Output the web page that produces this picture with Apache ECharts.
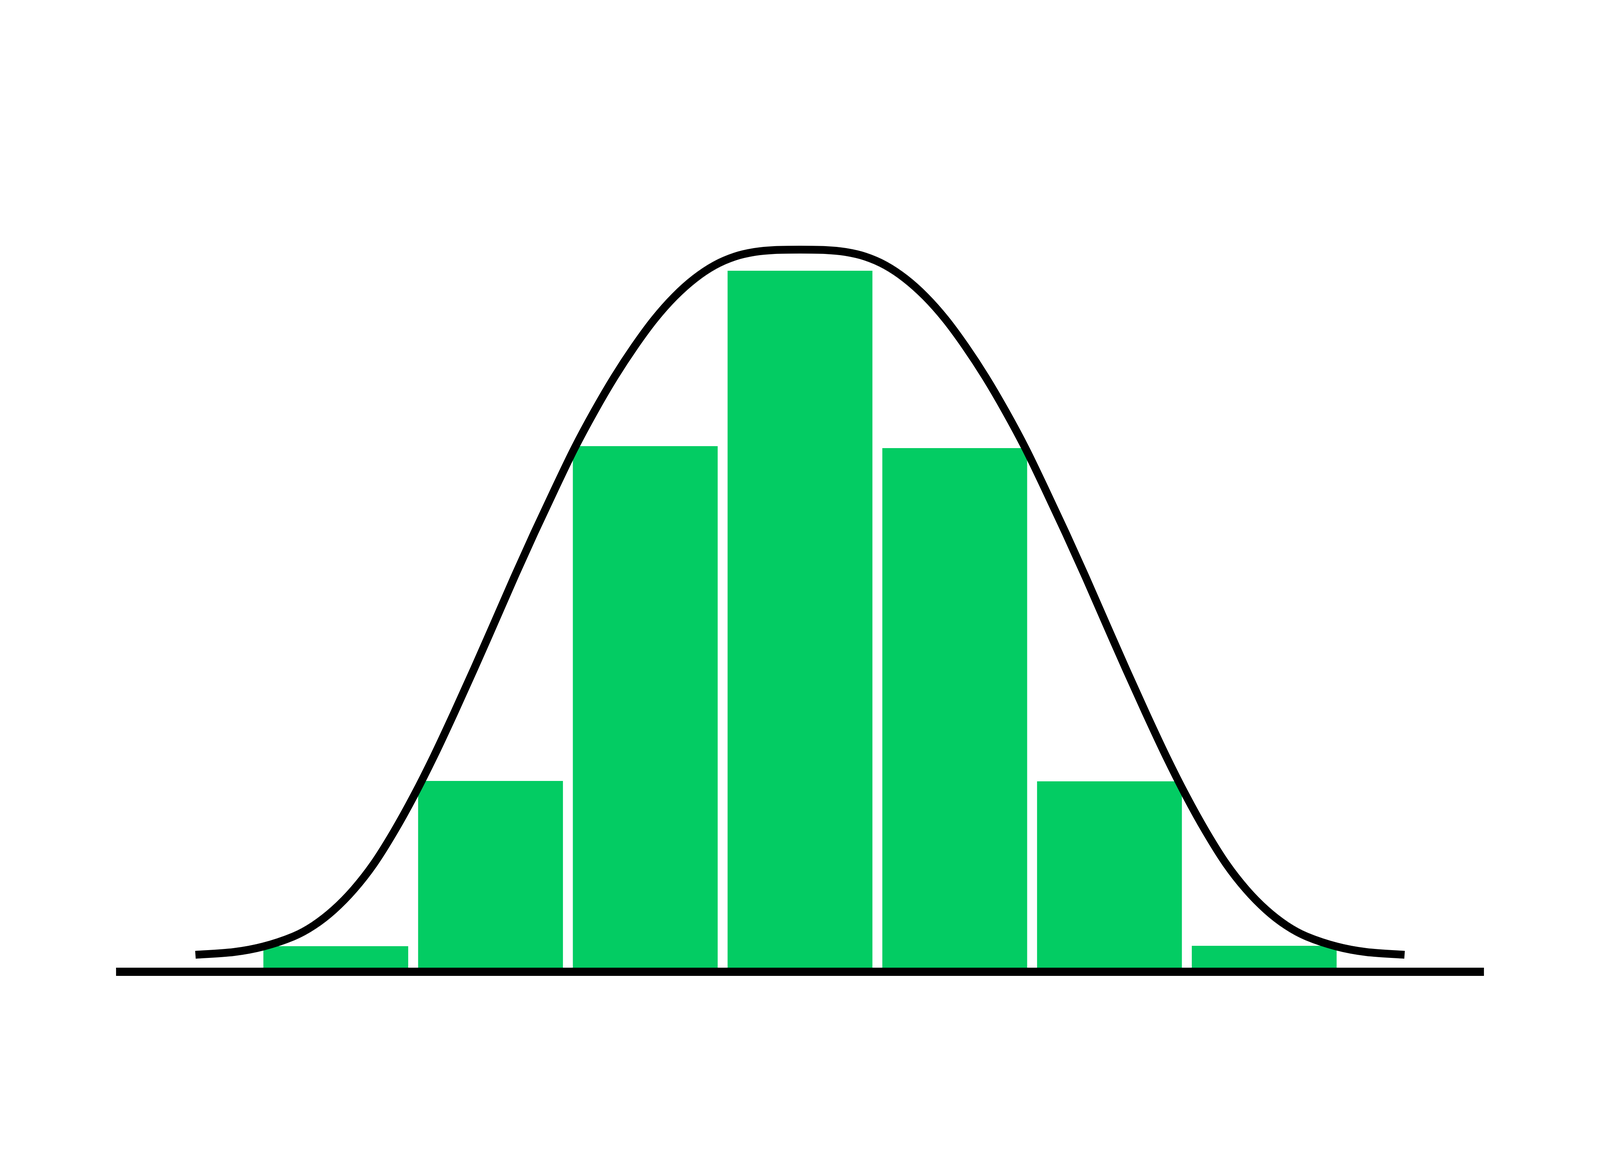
<!DOCTYPE html>
<html>
<head>
<meta charset="utf-8">
<style>
  html, body { margin: 0; padding: 0; background: #ffffff; overflow: hidden; }
  #chart { width: 100vw; height: 100vh; }
</style>
<script src="https://cdn.jsdelivr.net/npm/echarts@6/dist/echarts.min.js"></script>
</head>
<body>
<div id="chart"></div>
<script>
// Histogram bins: left edge, right edge, height
const binLeft  = [-3.468, -2.468, -1.468, -0.468, 0.532, 1.532, 2.532];
const binRight = [-2.532, -1.532, -0.532, 0.468, 1.468, 2.468, 3.468];
const binCounts = [3.25, 24.4, 67.25, 89.7, 67.0, 24.35, 3.3];

// Bell curve points
const curveX = [
  -3.907, -3.660, -3.470, -3.273, -3.143, -3.013, -2.884, -2.754, -2.624, -2.495,
  -2.365, -2.235, -2.105, -1.976, -1.848, -1.718, -1.588, -1.459, -1.329, -1.199,
  -1.070, -0.940, -0.810, -0.680, -0.551, -0.423, -0.293, -0.163, 0,
  0.163, 0.293, 0.423, 0.551, 0.680, 0.810, 0.940, 1.070, 1.199, 1.329,
  1.459, 1.588, 1.718, 1.848, 1.976, 2.105, 2.235, 2.365, 2.495, 2.624,
  2.754, 2.884, 3.013, 3.143, 3.273, 3.470, 3.660, 3.907
];
const curveY = [
  2.15, 2.5, 3.2, 4.5, 5.9, 7.9, 10.5, 13.8, 17.9, 22.5,
  27.6, 33.1, 38.8, 44.6, 50.4, 56.1, 61.6, 66.9, 71.7, 76.1,
  80.0, 83.5, 86.4, 88.7, 90.4, 91.5, 92.1, 92.35, 92.4,
  92.35, 92.1, 91.5, 90.4, 88.7, 86.4, 83.5, 80.0, 76.1, 71.7,
  66.9, 61.6, 56.1, 50.4, 44.6, 38.8, 33.1, 27.6, 22.5, 17.9,
  13.8, 10.5, 7.9, 5.9, 4.5, 3.2, 2.5, 2.15
];

const el = document.getElementById('chart');
const chart = echarts.init(el, null, { renderer: 'canvas' });
const s = (el.clientHeight / 3000) || 1;

const option = {
  backgroundColor: '#ffffff',
  animation: false,
  grid: { left: '7.254%', right: '7.254%', top: '16.233%', bottom: '17.1%', containLabel: false },
  xAxis: {
    type: 'value',
    min: -4.42,
    max: 4.42,
    z: 10,
    axisLine: { show: true, onZero: false, lineStyle: { color: '#000000', width: 21 * s, cap: 'butt' } },
    axisTick: { show: false },
    axisLabel: { show: false },
    splitLine: { show: false }
  },
  yAxis: {
    type: 'value',
    min: 0,
    max: 100,
    show: false,
    splitLine: { show: false }
  },
  series: [
    {
      type: 'custom',
      silent: true,
      data: binLeft.map((l, i) => [l, binRight[i], binCounts[i]]),
      encode: { x: [0, 1], y: 2 },
      renderItem: function (params, api) {
        const p0 = api.coord([api.value(0), 0]);
        const p1 = api.coord([api.value(1), api.value(2)]);
        return {
          type: 'rect',
          shape: { x: p0[0], y: p1[1], width: p1[0] - p0[0], height: p0[1] - p1[1] },
          style: { fill: '#03CC63' }
        };
      },
      z: 2
    },
    {
      type: 'custom',
      silent: true,
      clip: false,
      data: curveX.map((x, i) => [x, curveY[i]]),
      encode: { x: 0, y: 1 },
      renderItem: function (params, api) {
        if (params.dataIndex !== 0) return null;
        const pts = curveX.map((x, i) => api.coord([x, curveY[i]]));
        const n = pts.length;
        let d = 'M' + pts[0][0] + ' ' + pts[0][1];
        for (let i = 0; i < n - 1; i++) {
          const p0 = pts[Math.max(i - 1, 0)];
          const p1 = pts[i];
          const p2 = pts[i + 1];
          const p3 = pts[Math.min(i + 2, n - 1)];
          const c1x = p1[0] + (p2[0] - p0[0]) / 6;
          const c1y = p1[1] + (p2[1] - p0[1]) / 6;
          const c2x = p2[0] - (p3[0] - p1[0]) / 6;
          const c2y = p2[1] - (p3[1] - p1[1]) / 6;
          d += ' C' + c1x + ' ' + c1y + ' ' + c2x + ' ' + c2y + ' ' + p2[0] + ' ' + p2[1];
        }
        return {
          type: 'path',
          shape: { pathData: d },
          style: { fill: null, stroke: '#000000', lineWidth: 20 * s, lineCap: 'butt', lineJoin: 'round' }
        };
      },
      z: 5
    }
  ]
};

chart.setOption(option);
</script>
</body>
</html>
